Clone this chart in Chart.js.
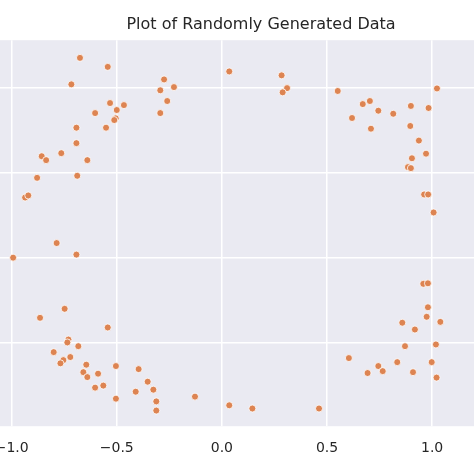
<!DOCTYPE html>
<html>
<head>
<meta charset="utf-8">
<script src="https://cdn.jsdelivr.net/npm/chart.js@4.4.0/dist/chart.umd.min.js"></script>
<style>
  html, body { margin: 0; padding: 0; background: #fff; }
  #wrap { position: relative; width: 474px; height: 474px; overflow: hidden; }
  #plot { position: absolute; left: -10px; top: 0; }
</style>
</head>
<body>
<div id="wrap"><canvas id="plot" width="542" height="474"></canvas></div>
<script>
// Points
const xValues = [
  -0.675, -0.543, -0.716, -0.275, -0.293, -0.228, -0.260, -0.293, 0.035, -0.532,
  -0.500, -0.466, -0.505, -0.512, -0.603, -0.551, -0.692, -0.692, -0.764, -0.857,
  -0.836, -0.640, -0.879, -0.688, -0.936, -0.921,
  0.284, 0.310, 0.289, 0.551, 0.670, 0.704, 0.619, 0.744, 0.709, 0.815,
  0.899, 0.983, 1.023, 0.896, 0.937, 0.971, 0.904, 0.885, 0.899, 0.962,
  0.981, 1.007,
  -0.786, -0.993, -0.692, -0.748, -0.865, -0.543, -0.730, -0.735, -0.683, -0.800,
  -0.721, -0.754, -0.768, -0.645, -0.659, -0.640, -0.589, -0.504, -0.396, -0.353,
  -0.326, -0.564, -0.603, -0.410, -0.504, -0.312, -0.312, -0.128, 0.035,
  0.958, 0.980, 0.980, 0.974, 1.039, 0.858, 0.918, 0.871, 1.018, 0.604,
  0.744, 0.765, 0.693, 0.834, 0.909, 0.998, 1.021, 0.145, 0.462
];
const yValues = [
  1.176, 1.123, 1.020, 1.049, 0.985, 1.004, 0.922, 0.851, 1.096, 0.910,
  0.869, 0.898, 0.820, 0.810, 0.851, 0.765, 0.765, 0.674, 0.615, 0.597,
  0.574, 0.574, 0.470, 0.482, 0.354, 0.366,
  1.073, 0.998, 0.973, 0.981, 0.904, 0.922, 0.822, 0.865, 0.759, 0.847,
  0.893, 0.881, 0.996, 0.775, 0.689, 0.612, 0.585, 0.533, 0.527, 0.372,
  0.372, 0.266,
  0.086, 0.000, 0.018, -0.301, -0.354, -0.411, -0.482, -0.499, -0.521, -0.556,
  -0.585, -0.603, -0.622, -0.630, -0.674, -0.703, -0.683, -0.638, -0.656, -0.730,
  -0.777, -0.753, -0.765, -0.789, -0.830, -0.846, -0.900, -0.818, -0.869,
  -0.154, -0.151, -0.292, -0.348, -0.378, -0.383, -0.423, -0.521, -0.511, -0.591,
  -0.638, -0.668, -0.679, -0.615, -0.674, -0.615, -0.706, -0.888, -0.888
];
const xTicks = [-1.0, -0.5, 0.0, 0.5, 1.0];
const xTickLabels = ['\u22121.0', '\u22120.5', '0.0', '0.5', '1.0'];
const yTicks = [-0.5, 0.0, 0.5, 1.0];

const points = xValues.map((x, i) => ({ x: x, y: yValues[i] }));

// seaborn-like grey panel behind the plot area
const panelBg = {
  id: 'panelBg',
  beforeDraw(chart) {
    const a = chart.chartArea;
    const ctx = chart.ctx;
    ctx.save();
    ctx.fillStyle = '#eaeaf2';
    ctx.fillRect(a.left, a.top, a.right - a.left, a.bottom - a.top);
    ctx.restore();
  }
};

new Chart(document.getElementById('plot'), {
  type: 'scatter',
  data: {
    datasets: [{
      data: points,
      backgroundColor: '#dd8452',
      borderColor: '#ffffff',
      borderWidth: 0.8,
      pointRadius: 3.5,
      pointHoverRadius: 3.5
    }]
  },
  options: {
    responsive: false,
    animation: false,
    layout: { autoPadding: false, padding: { left: 0, right: 0, top: 0, bottom: 3 } },
    plugins: {
      legend: { display: false },
      tooltip: { enabled: false },
      title: {
        display: true,
        text: 'Plot of Randomly Generated Data',
        color: '#262626',
        font: { family: 'DejaVu Sans', size: 16, weight: 'normal' },
        padding: { top: 15, bottom: 6 }
      }
    },
    scales: {
      x: {
        type: 'linear',
        min: -1.103,
        max: 1.475,
        afterBuildTicks: axis => { axis.ticks = xTicks.map(v => ({ value: v })); },
        afterFit: axis => { axis.paddingLeft = 0; axis.paddingRight = 0; },
        ticks: {
          color: '#262626',
          font: { family: 'DejaVu Sans', size: 14 },
          padding: 14,
          maxRotation: 0,
          callback: (v) => xTickLabels[xTicks.indexOf(v)]
        },
        grid: { color: '#ffffff', lineWidth: 1.5, drawTicks: false },
        border: { display: false }
      },
      y: {
        type: 'linear',
        min: -0.992,
        max: 1.280,
        afterBuildTicks: axis => { axis.ticks = yTicks.map(v => ({ value: v })); },
        afterFit: axis => { axis.width = 0; },
        ticks: { display: false },
        grid: { color: '#ffffff', lineWidth: 1.5, drawTicks: false },
        border: { display: false }
      }
    }
  },
  plugins: [panelBg]
});
</script>
</body>
</html>
